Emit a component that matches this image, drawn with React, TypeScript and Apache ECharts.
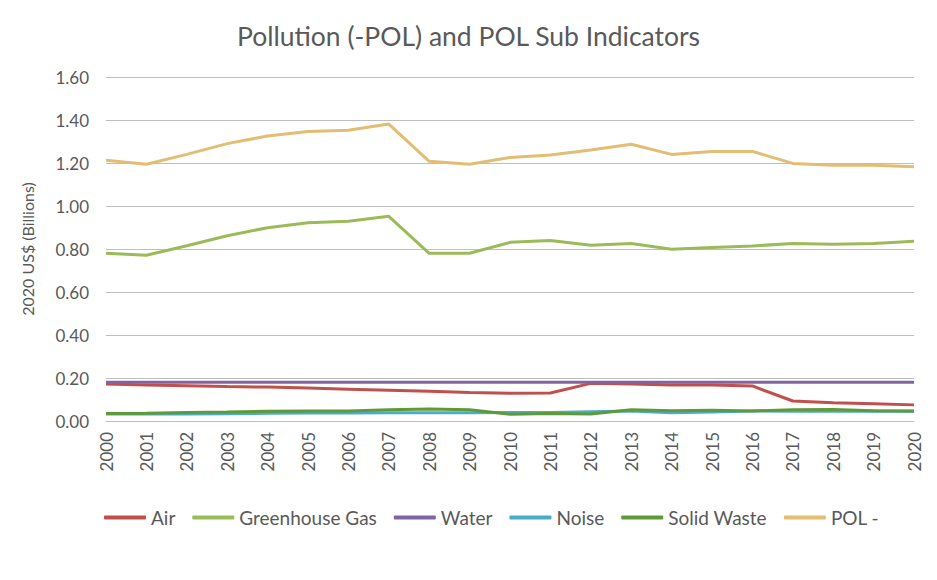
import React, { useEffect, useRef } from "react";
import * as echarts from "echarts";

const years = ["2000","2001","2002","2003","2004","2005","2006","2007","2008","2009","2010","2011","2012","2013","2014","2015","2016","2017","2018","2019","2020"];
const air = [0.172,0.168,0.164,0.160,0.158,0.153,0.148,0.143,0.138,0.133,0.129,0.130,0.175,0.172,0.168,0.168,0.163,0.093,0.085,0.080,0.075];
const greenhouseGas = [0.780,0.771,0.815,0.862,0.899,0.922,0.929,0.952,0.780,0.780,0.831,0.840,0.817,0.826,0.799,0.807,0.814,0.826,0.822,0.826,0.836];
const water = [0.180,0.180,0.180,0.180,0.180,0.180,0.180,0.180,0.180,0.180,0.180,0.180,0.180,0.180,0.180,0.180,0.180,0.180,0.180,0.180,0.180];
const noise = [0.032,0.032,0.033,0.034,0.036,0.037,0.037,0.038,0.038,0.038,0.039,0.040,0.043,0.046,0.038,0.042,0.047,0.045,0.045,0.047,0.045];
const solidWaste = [0.035,0.036,0.040,0.042,0.045,0.046,0.047,0.052,0.056,0.052,0.031,0.035,0.033,0.052,0.048,0.050,0.047,0.052,0.053,0.048,0.047];
const polTotal = [1.213,1.194,1.240,1.290,1.326,1.347,1.352,1.381,1.208,1.194,1.226,1.237,1.260,1.287,1.240,1.254,1.254,1.198,1.190,1.190,1.183];
const yTicks = { min: 0, max: 1.6, interval: 0.2 };

const seriesDefs = [
  { name: "Air", data: air, color: "#C0504D" },
  { name: "Greenhouse Gas", data: greenhouseGas, color: "#9BBB59" },
  { name: "Water", data: water, color: "#8064A2" },
  { name: "Noise", data: noise, color: "#4BACC6" },
  { name: "Solid Waste", data: solidWaste, color: "#5E9A3A" },
  { name: "POL -", data: polTotal, color: "#E2BD72" },
];

const FONT = "Lato, 'Open Sans', sans-serif";
const GREY = "#595959";

export default function App() {
  const ref = useRef<HTMLDivElement>(null);
  useEffect(() => {
    document.body.style.margin = "0";
    const chart = echarts.init(ref.current!, null, { renderer: "svg" });
    chart.setOption({
      animation: false,
      backgroundColor: "#ffffff",
      title: {
        text: "Pollution (-POL) and POL Sub Indicators",
        left: "center",
        top: 17,
        textStyle: { color: GREY, fontSize: 26.5, fontWeight: "normal", fontFamily: FONT },
      },
      grid: { left: 106, right: 23, top: 77, bottom: 159, containLabel: false },
      legend: {
        bottom: 48,
        left: 99,
        icon: "roundRect",
        itemWidth: 42,
        itemHeight: 4,
        itemGap: 17,
        textStyle: { color: GREY, fontSize: 19, fontFamily: FONT, padding: [0, 0, 0, 0] },
        data: seriesDefs.map((s) => s.name),
      },
      xAxis: {
        type: "category",
        data: years,
        boundaryGap: false,
        axisLine: { lineStyle: { color: "#BFBFBF", width: 1 } },
        axisTick: { show: false },
        axisLabel: { rotate: 90, color: GREY, fontSize: 17, fontFamily: FONT, margin: 11, interval: 0 },
      },
      yAxis: {
        type: "value",
        min: yTicks.min,
        max: yTicks.max,
        interval: yTicks.interval,
        name: "2020 US$ (Billions)",
        nameLocation: "middle",
        nameGap: 71,
        nameTextStyle: { color: GREY, fontSize: 16, fontFamily: FONT },
        axisLine: { show: false },
        axisTick: { show: false },
        splitLine: { lineStyle: { color: "#BFBFBF", width: 1 } },
        axisLabel: {
          color: GREY,
          fontSize: 17,
          fontFamily: FONT,
          margin: 17,
          formatter: (v: number) => v.toFixed(2),
        },
      },
      series: seriesDefs.map((s) => ({
        name: s.name,
        type: "line",
        data: s.data,
        symbol: "none",
        color: s.color,
        lineStyle: { color: s.color, width: 3 },
        itemStyle: { color: s.color },
      })),
    });
    return () => chart.dispose();
  }, []);
  return <div ref={ref} style={{ width: 937, height: 580 }} />;
}
